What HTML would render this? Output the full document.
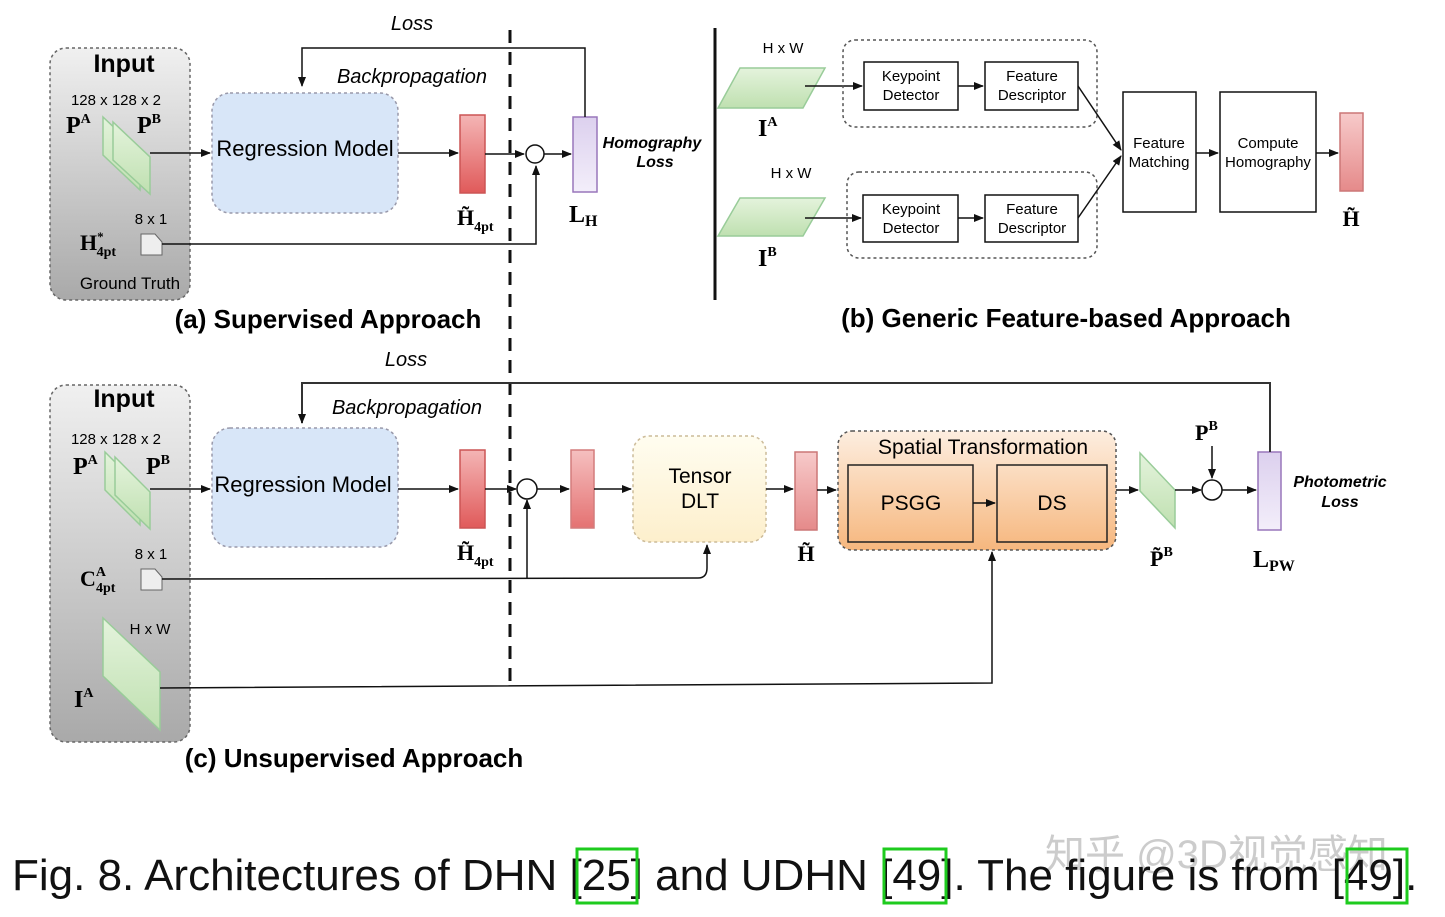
<!DOCTYPE html>
<html><head><meta charset="utf-8"><style>
html,body{margin:0;padding:0;background:#fff;width:1445px;height:917px;overflow:hidden}
svg text{font-family:"Liberation Sans",sans-serif}
.s{font-family:"Liberation Serif",serif;font-weight:bold}
</style></head><body>
<svg width="1445" height="917" viewBox="0 0 1445 917" xmlns="http://www.w3.org/2000/svg">
<defs>
<marker id="a" markerWidth="10" markerHeight="8" refX="9" refY="4" orient="auto" markerUnits="userSpaceOnUse"><path d="M0,0 L10,4 L0,8 z" fill="#111"/></marker>
<linearGradient id="gin" x1="0" y1="0" x2="0" y2="1"><stop offset="0" stop-color="#f0f0f0"/><stop offset="1" stop-color="#a9a9a9"/></linearGradient>
<linearGradient id="red" x1="0" y1="0" x2="0" y2="1"><stop offset="0" stop-color="#f4b5b5"/><stop offset="1" stop-color="#e05a5a"/></linearGradient>
<linearGradient id="red2" x1="0" y1="0" x2="0" y2="1"><stop offset="0" stop-color="#f7caca"/><stop offset="1" stop-color="#e58a8a"/></linearGradient>
<linearGradient id="grn" x1="0" y1="0" x2="0" y2="1"><stop offset="0" stop-color="#e4f3dc"/><stop offset="1" stop-color="#bfe0b0"/></linearGradient>
<linearGradient id="org" x1="0" y1="0" x2="0" y2="1"><stop offset="0" stop-color="#fdeee0"/><stop offset="1" stop-color="#f6b77e"/></linearGradient>
<linearGradient id="yel" x1="0" y1="0" x2="0" y2="1"><stop offset="0" stop-color="#fffdf0"/><stop offset="1" stop-color="#fdefcc"/></linearGradient>
<linearGradient id="lav" x1="0" y1="0" x2="0" y2="1"><stop offset="0" stop-color="#dcd0ee"/><stop offset="1" stop-color="#f3eefa"/></linearGradient>
</defs>
<g stroke-width="1.5">
<!-- Panel a -->
<rect x="50" y="48" width="140" height="252" rx="16" fill="url(#gin)" stroke="#666" stroke-dasharray="3,3"/>
<text x="124" y="72" font-size="25" font-weight="bold" text-anchor="middle">Input</text>
<text x="116" y="105" font-size="15" text-anchor="middle">128 x 128 x 2</text>
<text x="66" y="133" font-size="24" class="s">P<tspan font-size="14" dy="-10">A</tspan></text>
<text x="137" y="133" font-size="24" class="s">P<tspan font-size="14" dy="-10">B</tspan></text>
<polygon points="103,117 140,152 140,190 103,155" fill="url(#grn)" stroke="#9c9"/>
<polygon points="113,122 150,157 150,194 113,160" fill="url(#grn)" stroke="#9c9"/>
<line x1="150" y1="153" x2="210" y2="153" stroke="#111" marker-end="url(#a)"/>
<rect x="212" y="93" width="186" height="120" rx="18" fill="#d8e6f8" stroke="#99a" stroke-dasharray="3,3"/>
<text x="305" y="156" font-size="22" text-anchor="middle">Regression Model</text>
<line x1="398" y1="153" x2="458" y2="153" stroke="#111" marker-end="url(#a)"/>
<rect x="460" y="115" width="25" height="78" fill="url(#red)" stroke="#c55"/>
<text x="457" y="225" font-size="22" class="s">H̃<tspan font-size="14" dy="6">4pt</tspan></text>
<line x1="485" y1="154" x2="524" y2="154" stroke="#111" marker-end="url(#a)"/>
<circle cx="535" cy="154" r="9" fill="none" stroke="#111"/>
<line x1="544" y1="154" x2="571" y2="154" stroke="#111" marker-end="url(#a)"/>
<rect x="573" y="117" width="24" height="75" fill="url(#lav)" stroke="#97b"/>
<text x="569" y="222" font-size="24" class="s">L<tspan font-size="16" dy="4">H</tspan></text>
<text x="652" y="148" font-size="16" font-weight="bold" font-style="italic" text-anchor="middle">Homography</text>
<text x="655" y="167" font-size="16" font-weight="bold" font-style="italic" text-anchor="middle">Loss</text>
<polyline points="585,117 585,48 302,48 302,86" fill="none" stroke="#111" marker-end="url(#a)"/>
<text x="412" y="30" font-size="20" font-style="italic" text-anchor="middle">Loss</text>
<text x="412" y="83" font-size="20" font-style="italic" text-anchor="middle">Backpropagation</text>
<text x="151" y="224" font-size="15" text-anchor="middle">8 x 1</text>
<text x="80" y="250" font-size="22" class="s">H<tspan font-size="13" dy="-9">*</tspan><tspan font-size="14" dx="-7" dy="15">4pt</tspan></text>
<path d="M141,234 L155,234 L162,242 L162,255 L141,255 Z" fill="#eee" stroke="#666" stroke-width="1"/>
<polyline points="162,244 536,244 536,166" fill="none" stroke="#111" marker-end="url(#a)"/>
<text x="130" y="289" font-size="17" text-anchor="middle">Ground Truth</text>
<text x="328" y="328" font-size="26" font-weight="bold" text-anchor="middle">(a) Supervised Approach</text>

<line x1="510" y1="30" x2="510" y2="690" stroke="#111" stroke-width="3" stroke-dasharray="13,9"/>

<!-- Panel b -->
<line x1="715" y1="28" x2="715" y2="300" stroke="#111" stroke-width="3"/>
<text x="783" y="53" font-size="15" text-anchor="middle">H x W</text>
<polygon points="740,68 825,68 803,108 718,108" fill="url(#grn)" stroke="#9c9"/>
<line x1="805" y1="86" x2="862" y2="86" stroke="#111" marker-end="url(#a)"/>
<text x="758" y="136" font-size="24" class="s">I<tspan font-size="14" dy="-10">A</tspan></text>
<rect x="843" y="40" width="254" height="87" rx="12" fill="none" stroke="#555" stroke-dasharray="3,3"/>
<rect x="864" y="62" width="94" height="48" fill="#fff" stroke="#111"/>
<text x="911" y="81" font-size="15" text-anchor="middle">Keypoint</text>
<text x="911" y="100" font-size="15" text-anchor="middle">Detector</text>
<line x1="958" y1="86" x2="983" y2="86" stroke="#111" marker-end="url(#a)"/>
<rect x="985" y="62" width="93" height="48" fill="#fff" stroke="#111"/>
<text x="1032" y="81" font-size="15" text-anchor="middle">Feature</text>
<text x="1032" y="100" font-size="15" text-anchor="middle">Descriptor</text>
<text x="791" y="178" font-size="15" text-anchor="middle">H x W</text>
<polygon points="740,198 825,198 803,236 718,236" fill="url(#grn)" stroke="#9c9"/>
<line x1="805" y1="218" x2="861" y2="218" stroke="#111" marker-end="url(#a)"/>
<text x="758" y="266" font-size="24" class="s">I<tspan font-size="14" dy="-10">B</tspan></text>
<rect x="847" y="172" width="250" height="86" rx="12" fill="none" stroke="#555" stroke-dasharray="3,3"/>
<rect x="863" y="195" width="95" height="47" fill="#fff" stroke="#111"/>
<text x="911" y="214" font-size="15" text-anchor="middle">Keypoint</text>
<text x="911" y="233" font-size="15" text-anchor="middle">Detector</text>
<line x1="958" y1="218" x2="983" y2="218" stroke="#111" marker-end="url(#a)"/>
<rect x="985" y="195" width="93" height="47" fill="#fff" stroke="#111"/>
<text x="1032" y="214" font-size="15" text-anchor="middle">Feature</text>
<text x="1032" y="233" font-size="15" text-anchor="middle">Descriptor</text>
<line x1="1078" y1="86" x2="1121" y2="150" stroke="#111" marker-end="url(#a)"/>
<line x1="1078" y1="218" x2="1121" y2="156" stroke="#111" marker-end="url(#a)"/>
<rect x="1123" y="92" width="73" height="120" fill="#fff" stroke="#111"/>
<text x="1159" y="148" font-size="15" text-anchor="middle">Feature</text>
<text x="1159" y="167" font-size="15" text-anchor="middle">Matching</text>
<line x1="1196" y1="153" x2="1218" y2="153" stroke="#111" marker-end="url(#a)"/>
<rect x="1220" y="92" width="96" height="120" fill="#fff" stroke="#111"/>
<text x="1268" y="148" font-size="15" text-anchor="middle">Compute</text>
<text x="1268" y="167" font-size="15" text-anchor="middle">Homography</text>
<line x1="1316" y1="153" x2="1338" y2="153" stroke="#111" marker-end="url(#a)"/>
<rect x="1340" y="113" width="23" height="78" fill="url(#red2)" stroke="#c77"/>
<text x="1351" y="226" font-size="22" class="s" text-anchor="middle">H̃</text>
<text x="1066" y="327" font-size="26" font-weight="bold" text-anchor="middle">(b) Generic Feature-based Approach</text>

<!-- Panel c -->
<rect x="50" y="385" width="140" height="357" rx="16" fill="url(#gin)" stroke="#666" stroke-dasharray="3,3"/>
<text x="124" y="407" font-size="25" font-weight="bold" text-anchor="middle">Input</text>
<text x="116" y="444" font-size="15" text-anchor="middle">128 x 128 x 2</text>
<text x="73" y="474" font-size="24" class="s">P<tspan font-size="14" dy="-10">A</tspan></text>
<text x="146" y="474" font-size="24" class="s">P<tspan font-size="14" dy="-10">B</tspan></text>
<polygon points="105,452 140,487 140,525 105,490" fill="url(#grn)" stroke="#9c9"/>
<polygon points="115,457 150,492 150,529 115,495" fill="url(#grn)" stroke="#9c9"/>
<line x1="150" y1="489" x2="210" y2="489" stroke="#111" marker-end="url(#a)"/>
<rect x="212" y="428" width="186" height="119" rx="18" fill="#d8e6f8" stroke="#99a" stroke-dasharray="3,3"/>
<text x="303" y="492" font-size="22" text-anchor="middle">Regression Model</text>
<line x1="398" y1="489" x2="458" y2="489" stroke="#111" marker-end="url(#a)"/>
<rect x="460" y="450" width="25" height="78" fill="url(#red)" stroke="#c55"/>
<text x="457" y="560" font-size="22" class="s">H̃<tspan font-size="14" dy="6">4pt</tspan></text>
<line x1="485" y1="489" x2="516" y2="489" stroke="#111" marker-end="url(#a)"/>
<circle cx="527" cy="489" r="10" fill="none" stroke="#111"/>
<line x1="537" y1="489" x2="569" y2="489" stroke="#111" marker-end="url(#a)"/>
<rect x="571" y="450" width="23" height="78" fill="url(#red)" stroke="#c66" opacity="0.85"/>
<line x1="594" y1="489" x2="631" y2="489" stroke="#111" marker-end="url(#a)"/>
<rect x="633" y="436" width="133" height="106" rx="16" fill="url(#yel)" stroke="#cb9" stroke-dasharray="3,3"/>
<text x="700" y="483" font-size="21" text-anchor="middle">Tensor</text>
<text x="700" y="508" font-size="21" text-anchor="middle">DLT</text>
<line x1="766" y1="489" x2="793" y2="489" stroke="#111" marker-end="url(#a)"/>
<rect x="795" y="452" width="22" height="78" fill="url(#red2)" stroke="#c77"/>
<text x="806" y="561" font-size="22" class="s" text-anchor="middle">H̃</text>
<line x1="817" y1="490" x2="836" y2="490" stroke="#111" marker-end="url(#a)"/>
<rect x="838" y="431" width="278" height="119" rx="14" fill="url(#org)" stroke="#555" stroke-dasharray="3,3"/>
<text x="983" y="454" font-size="21" text-anchor="middle">Spatial Transformation</text>
<rect x="848" y="465" width="125" height="77" fill="none" stroke="#222"/>
<text x="911" y="510" font-size="21" text-anchor="middle">PSGG</text>
<line x1="973" y1="503" x2="995" y2="503" stroke="#111" marker-end="url(#a)"/>
<rect x="997" y="465" width="110" height="77" fill="none" stroke="#222"/>
<text x="1052" y="510" font-size="21" text-anchor="middle">DS</text>
<line x1="1116" y1="490" x2="1138" y2="490" stroke="#111" marker-end="url(#a)"/>
<polygon points="1140,453 1175,490 1175,528 1140,491" fill="url(#grn)" stroke="#9c9"/>
<text x="1150" y="566" font-size="22" class="s">P̃<tspan font-size="14" dy="-10">B</tspan></text>
<line x1="1175" y1="490" x2="1201" y2="490" stroke="#111" marker-end="url(#a)"/>
<circle cx="1212" cy="490" r="10" fill="none" stroke="#111"/>
<text x="1195" y="440" font-size="22" class="s">P<tspan font-size="14" dy="-10">B</tspan></text>
<line x1="1212" y1="446" x2="1212" y2="478" stroke="#111" marker-end="url(#a)"/>
<line x1="1222" y1="490" x2="1256" y2="490" stroke="#111" marker-end="url(#a)"/>
<rect x="1258" y="452" width="23" height="78" fill="url(#lav)" stroke="#97b"/>
<text x="1253" y="567" font-size="24" class="s">L<tspan font-size="16" dy="4">PW</tspan></text>
<text x="1340" y="487" font-size="16" font-weight="bold" font-style="italic" text-anchor="middle">Photometric</text>
<text x="1340" y="507" font-size="16" font-weight="bold" font-style="italic" text-anchor="middle">Loss</text>
<polyline points="1270,452 1270,383 302,383 302,423" fill="none" stroke="#333" stroke-width="2" marker-end="url(#a)"/>
<text x="406" y="366" font-size="20" font-style="italic" text-anchor="middle">Loss</text>
<text x="407" y="414" font-size="20" font-style="italic" text-anchor="middle">Backpropagation</text>
<text x="151" y="559" font-size="15" text-anchor="middle">8 x 1</text>
<text x="80" y="586" font-size="22" class="s">C<tspan font-size="14" dy="-10">A</tspan><tspan font-size="14" dx="-10" dy="16">4pt</tspan></text>
<path d="M141,569 L155,569 L162,577 L162,590 L141,590 Z" fill="#eee" stroke="#666" stroke-width="1"/>
<path d="M162,579 L698,578 Q707,578 707,568 L707,545" fill="none" stroke="#111" marker-end="url(#a)"/>
<line x1="527" y1="578" x2="527" y2="500" stroke="#111" marker-end="url(#a)"/>
<text x="150" y="634" font-size="15" text-anchor="middle">H x W</text>
<polygon points="103,618 160,672 160,730 103,676" fill="url(#grn)" stroke="#9c9"/>
<text x="74" y="707" font-size="24" class="s">I<tspan font-size="14" dy="-10">A</tspan></text>
<polyline points="160,688 992,683 992,552" fill="none" stroke="#111" marker-end="url(#a)"/>
<text x="354" y="767" font-size="26" font-weight="bold" text-anchor="middle">(c) Unsupervised Approach</text>
</g>
<text x="1045" y="868" font-size="40" fill="#ccc" font-family="'Liberation Sans','Noto Sans CJK SC',sans-serif">知乎 @3D视觉感知</text>
<text x="12" y="890" font-size="44" fill="#111">Fig. 8. Architectures of DHN [25] and UDHN [49]. The figure is from [49].</text>
<g fill="none" stroke="#1ecb1e" stroke-width="3">
<rect x="577" y="849" width="60" height="54"/>
<rect x="884" y="849" width="62" height="54"/>
<rect x="1347" y="849" width="60" height="54"/>
</g>
</svg>
</body></html>
